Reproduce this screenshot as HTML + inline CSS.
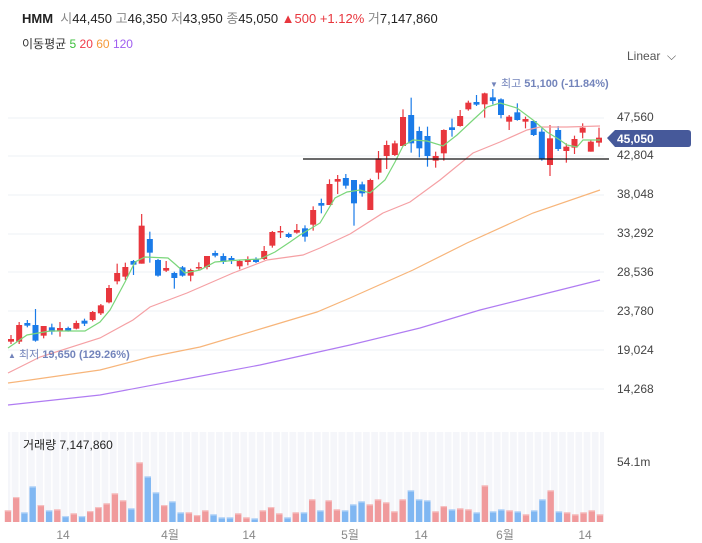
<!DOCTYPE html>
<html><head><meta charset="utf-8">
<style>
body{margin:0;background:#fff;width:702px;height:543px;overflow:hidden;font-family:"Liberation Sans","Noto Sans CJK KR",sans-serif;position:relative}
.t{position:absolute;white-space:nowrap}
</style></head><body>
<div class="t" style="left:22px;top:8px;font-size:13px;color:#222"><b>HMM</b>&nbsp;&nbsp;<span style="color:#888">시</span>44,450 <span style="color:#888">고</span>46,350 <span style="color:#888">저</span>43,950 <span style="color:#888">종</span>45,050 <span style="color:#e8363d">▲500 +1.12%</span> <span style="color:#888">거</span>7,147,860</div>
<div class="t" style="left:22px;top:35px;font-size:12px;color:#333">이동평균 <span style="color:#3bbf3b">5</span> <span style="color:#f03a4a">20</span> <span style="color:#f59a3a">60</span> <span style="color:#a05ef0">120</span></div>
<div class="t" style="left:627px;top:49px;font-size:12px;color:#555">Linear&nbsp;&nbsp;⌵</div>
<svg id="s" width="702" height="543" style="position:absolute;left:0;top:0"></svg>
<script>
var s=document.getElementById('s'),h='';
// grid
[118,156,195,234,272,311,350,389].forEach(function(y){h+='<line x1="8" x2="604" y1="'+y+'" y2="'+y+'" stroke="#eef0f4" stroke-width="1"/>';});
var labs=['47,560','42,804','38,048','33,292','28,536','23,780','19,024','14,268'];
[117,155,194,233,272,311,350,389].forEach(function(y,i){h+='<text x="617" y="'+(y+4)+'" font-size="12" fill="#444">'+labs[i]+'</text>';});
// volume panel
h+='<rect x="8" y="432" width="596" height="90" fill="#f5f6fa"/>';
for(var i=0;i<74;i++){var x=11+i*8.17;h+='<line x1="'+x+'" x2="'+x+'" y1="432" y2="522" stroke="#fff" stroke-width="1.5"/>';}
// candles: [c,bt,bb,wt,wb]
var A=[['r',777,785,765,792],['r',735,785,726,792],['b',729,737,720,742],['b',735,782,687,785],['r',738,767,738,775],['b',742,755,731,764],['r',744,752,726,770],['b',744,752,740,755],['r',729,746,722,748],['b',722,731,716,738],['r',696,720,693,724],['r',676,700,672,705],['r',624,667,615,670],['r',579,604,551,613],['r',561,590,548,600],['b',543,554,540,585],['r',437,551,402,551],['b',477,518,455,548],['b',540,587,537,590],['r',564,572,543,576],['b',579,594,575,626],['b',562,587,558,590],['r',570,587,566,604],['r',561,564,547,570],['r',528,561,528,568],['b',519,527,512,532],['b',528,546,520,552],['b',534,541,528,552],['r',543,559,540,568],['r',537,546,529,556],['b',537,546,532,549],['r',513,537,498,540],['r',456,497,453,503],['r',453,456,438,474],['b',462,471,458,474],['r',450,458,432,461],['b',445,470,436,485],['r',390,434,379,452],['b',369,377,356,400],['r',312,375,298,375],['r',297,305,285,342],['b',294,317,282,326]];
var C=[];A.forEach(function(a){C.push([a[0],a[1]/3+80,a[2]/3+80,a[3]/3+80,a[4]/3+80]);});
var B=[['b',330,400,330,467],['b',343,370,335,380],['r',330,420,326,420],['r',265,308,243,328],['r',225,258,212,297],['r',220,255,212,258],['r',141,228,118,228],['b',135,220,83,248],['b',183,235,170,262],['b',198,258,170,290],['r',258,272,245,293],['r',180,250,178,272],['b',172,180,146,200],['r',138,168,120,170],['r',98,118,92,122],['b',96,104,75,108],['r',70,103,68,143],['b',82,93,57,103],['b',88,135,85,145],['r',140,155,135,180],['b',127,150,100,152],['r',147,155,140,175],['b',153,195,153,198],['b',185,268,175,272],['r',205,285,165,318],['b',180,237,168,243],['r',230,243,220,278],['r',207,233,197,252],['r',173,188,160,205],['r',215,245,210,245],['r',203,218,173,230]];
B.forEach(function(a){C.push([a[0],a[1]/3+70,a[2]/3+70,a[3]/3+70,a[4]/3+70]);});
var n=C.length,sp=(599-11)/(n-1);
C.forEach(function(c,i){var x=11+i*sp,col=c[0]=='r'?'#e8363d':'#1a7be8';
h+='<line x1="'+x+'" x2="'+x+'" y1="'+c[3]+'" y2="'+c[4]+'" stroke="'+col+'" stroke-width="1.2"/>';
h+='<rect x="'+(x-3)+'" y="'+c[1]+'" width="6" height="'+Math.max(1.5,c[2]-c[1])+'" fill="'+col+'"/>';});
// volume
var V=[256,216,262,184,240,256,253,273,265,273,258,246,235,205,226,250,112,154,202,240,229,262,262,270,256,268,277,277,265,277,280,256,246,265,277,262,262,223,256,226,253,256,238,229,238,223,232,259,223,196,223,226,259,243,253,250,253,262,181,259,253,256,259,268,256,223,196,259,262,268,262,256,268];
var vs=(600-8)/(V.length-1);
V.forEach(function(v,i){var x=8+i*vs,y=425+v/3,ci=Math.min(n-1,Math.round(i*(n-1)/(V.length-1)));var col=C[ci][0]=='r'?'#f09a9c':'#80b7f2';var top=C[ci][0]=='r'?'#f6c0c1':'#b8d6f8';
h+='<rect x="'+(x-3.2)+'" y="'+y+'" width="6.4" height="'+(522-y)+'" fill="'+col+'"/><rect x="'+(x-3.2)+'" y="'+y+'" width="6.4" height="1.2" fill="'+top+'"/>';});
function pl(p,c){h+='<polyline fill="none" stroke="'+c+'" stroke-width="1.2" points="'+p+'"/>';}
pl('8,405 100,395 180,380 260,365 350,345 420,328 480,310 540,295 600,280','#b07cf2');
pl('8,383 30,380 100,370 150,357 200,347 267,327 317,312 350,298 413,270 467,243 533,213 600,190','#f7b57a');
pl('8,373 40,357 100,338 133,320 150,307 187,293 233,273 267,260 303,255 320,248 350,234 383,213 410,202 440,180 473,153 500,142 527,130 540,127 567,127 600,126','#f5a0a4');
pl('8,348 27,335 50,331 85,331 100,322 110,310 125,282 135,262 145,257 168,258 175,264 185,273 200,270 215,262 240,260 260,259 275,252 290,242 300,235 320,223 335,198 347,192 360,190 370,193 385,180 395,162 403,146 413,140 427,141 443,146 457,135 473,120 487,107 500,103 517,108 533,120 547,132 560,140 567,145 577,147 583,140 600,140','#7ad67a');
h+='<line x1="303" x2="609" y1="159" y2="159" stroke="#111" stroke-width="1.3"/>';
h+='<path d="M607,138 L615,130 H688 Q691,130 691,133 V144 Q691,147 688,147 H615 Z" fill="#46599a"/>';
h+='<text x="617" y="143" font-size="12" font-weight="bold" fill="#fff">45,050</text>';
h+='<text x="490" y="87" font-size="11" fill="#7384bb"><tspan font-size="8">▼</tspan> 최고 <tspan font-weight="bold">51,100 (-11.84%)</tspan></text>';
h+='<text x="8" y="358" font-size="11" fill="#7384bb"><tspan font-size="8">▲</tspan> 최저 <tspan font-weight="bold">19,650 (129.26%)</tspan></text>';
h+='<text x="23" y="449" font-size="12" fill="#222">거래량 7,147,860</text>';
h+='<text x="617" y="466" font-size="12" fill="#444">54.1m</text>';
[[63,'14'],[170,'4월'],[249,'14'],[350,'5월'],[421,'14'],[505,'6월'],[585,'14']].forEach(function(a){h+='<text x="'+a[0]+'" y="539" font-size="12" fill="#888" text-anchor="middle">'+a[1]+'</text>';});
s.innerHTML=h;
</script>
</body></html>
